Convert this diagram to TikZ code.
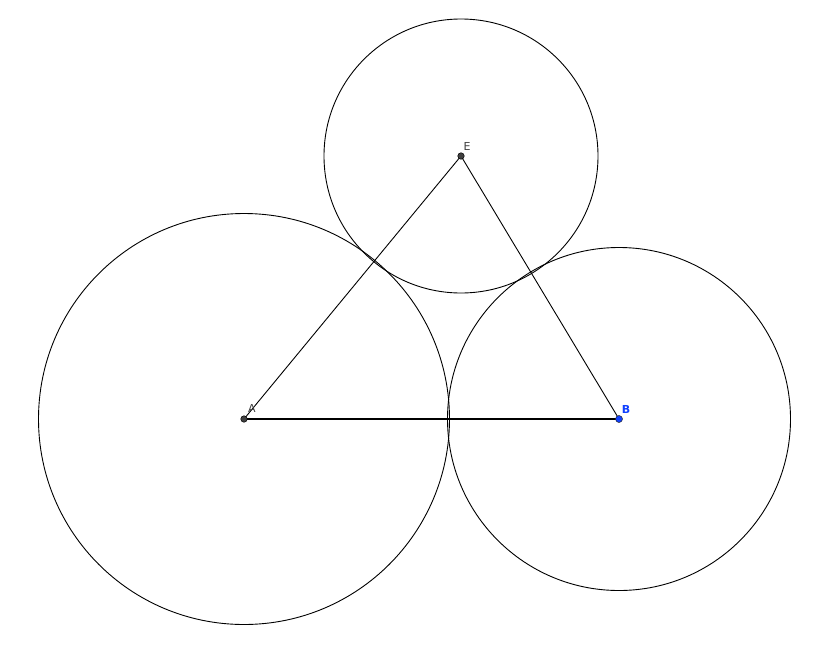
\documentclass[tikz,border=0pt]{standalone}
\usepackage{fontspec}
\setmainfont{DejaVu Sans}
\definecolor{ptgray}{HTML}{404040}
\definecolor{ptblue}{HTML}{1040FF}
\tikzset{
  circ/.style={draw=black, line width=0.9pt},
  side/.style={draw=black, line width=0.9pt},
  base/.style={draw=black, line width=1.7pt},
  pt/.style={circle, draw=black, fill=ptgray, line width=0.5pt, inner sep=0pt, minimum size=6.5pt},
  ptb/.style={circle, draw=ptgray!60!black, fill=ptblue, line width=0.5pt, inner sep=0pt, minimum size=7pt},
  lbl/.style={font=\fontsize{11}{11}\selectfont, inner sep=0pt, text=ptgray},
  lblb/.style={font=\fontsize{11}{11}\selectfont\bfseries, inner sep=0pt, text=ptblue}
}
\begin{document}
\begin{tikzpicture}[x=1pt,y=-1pt]
\useasboundingbox (0,0) rectangle (835,648);
\coordinate (Ac) at (244,419);
\coordinate (Bc) at (619,419);
\coordinate (Ec) at (461,156);
\draw[circ] (Ac) circle (205.5);
\draw[circ] (Bc) circle (171.5);
\draw[circ] (Ec) circle (137);
\draw[side] (Ac) -- (Ec);
\draw[side] (Ec) -- (Bc);
\draw[base] (Ac) -- (Bc);
\node[pt] (A) at (Ac) {};
\node[ptb] (B) at (Bc) {};
\node[pt] (E) at (Ec) {};
\node[lbl] (LA) at (252,408) {A};
\node[lblb] (LB) at (626,409) {B};
\node[lbl] (LE) at (467,146) {E};
\end{tikzpicture}
\end{document}
